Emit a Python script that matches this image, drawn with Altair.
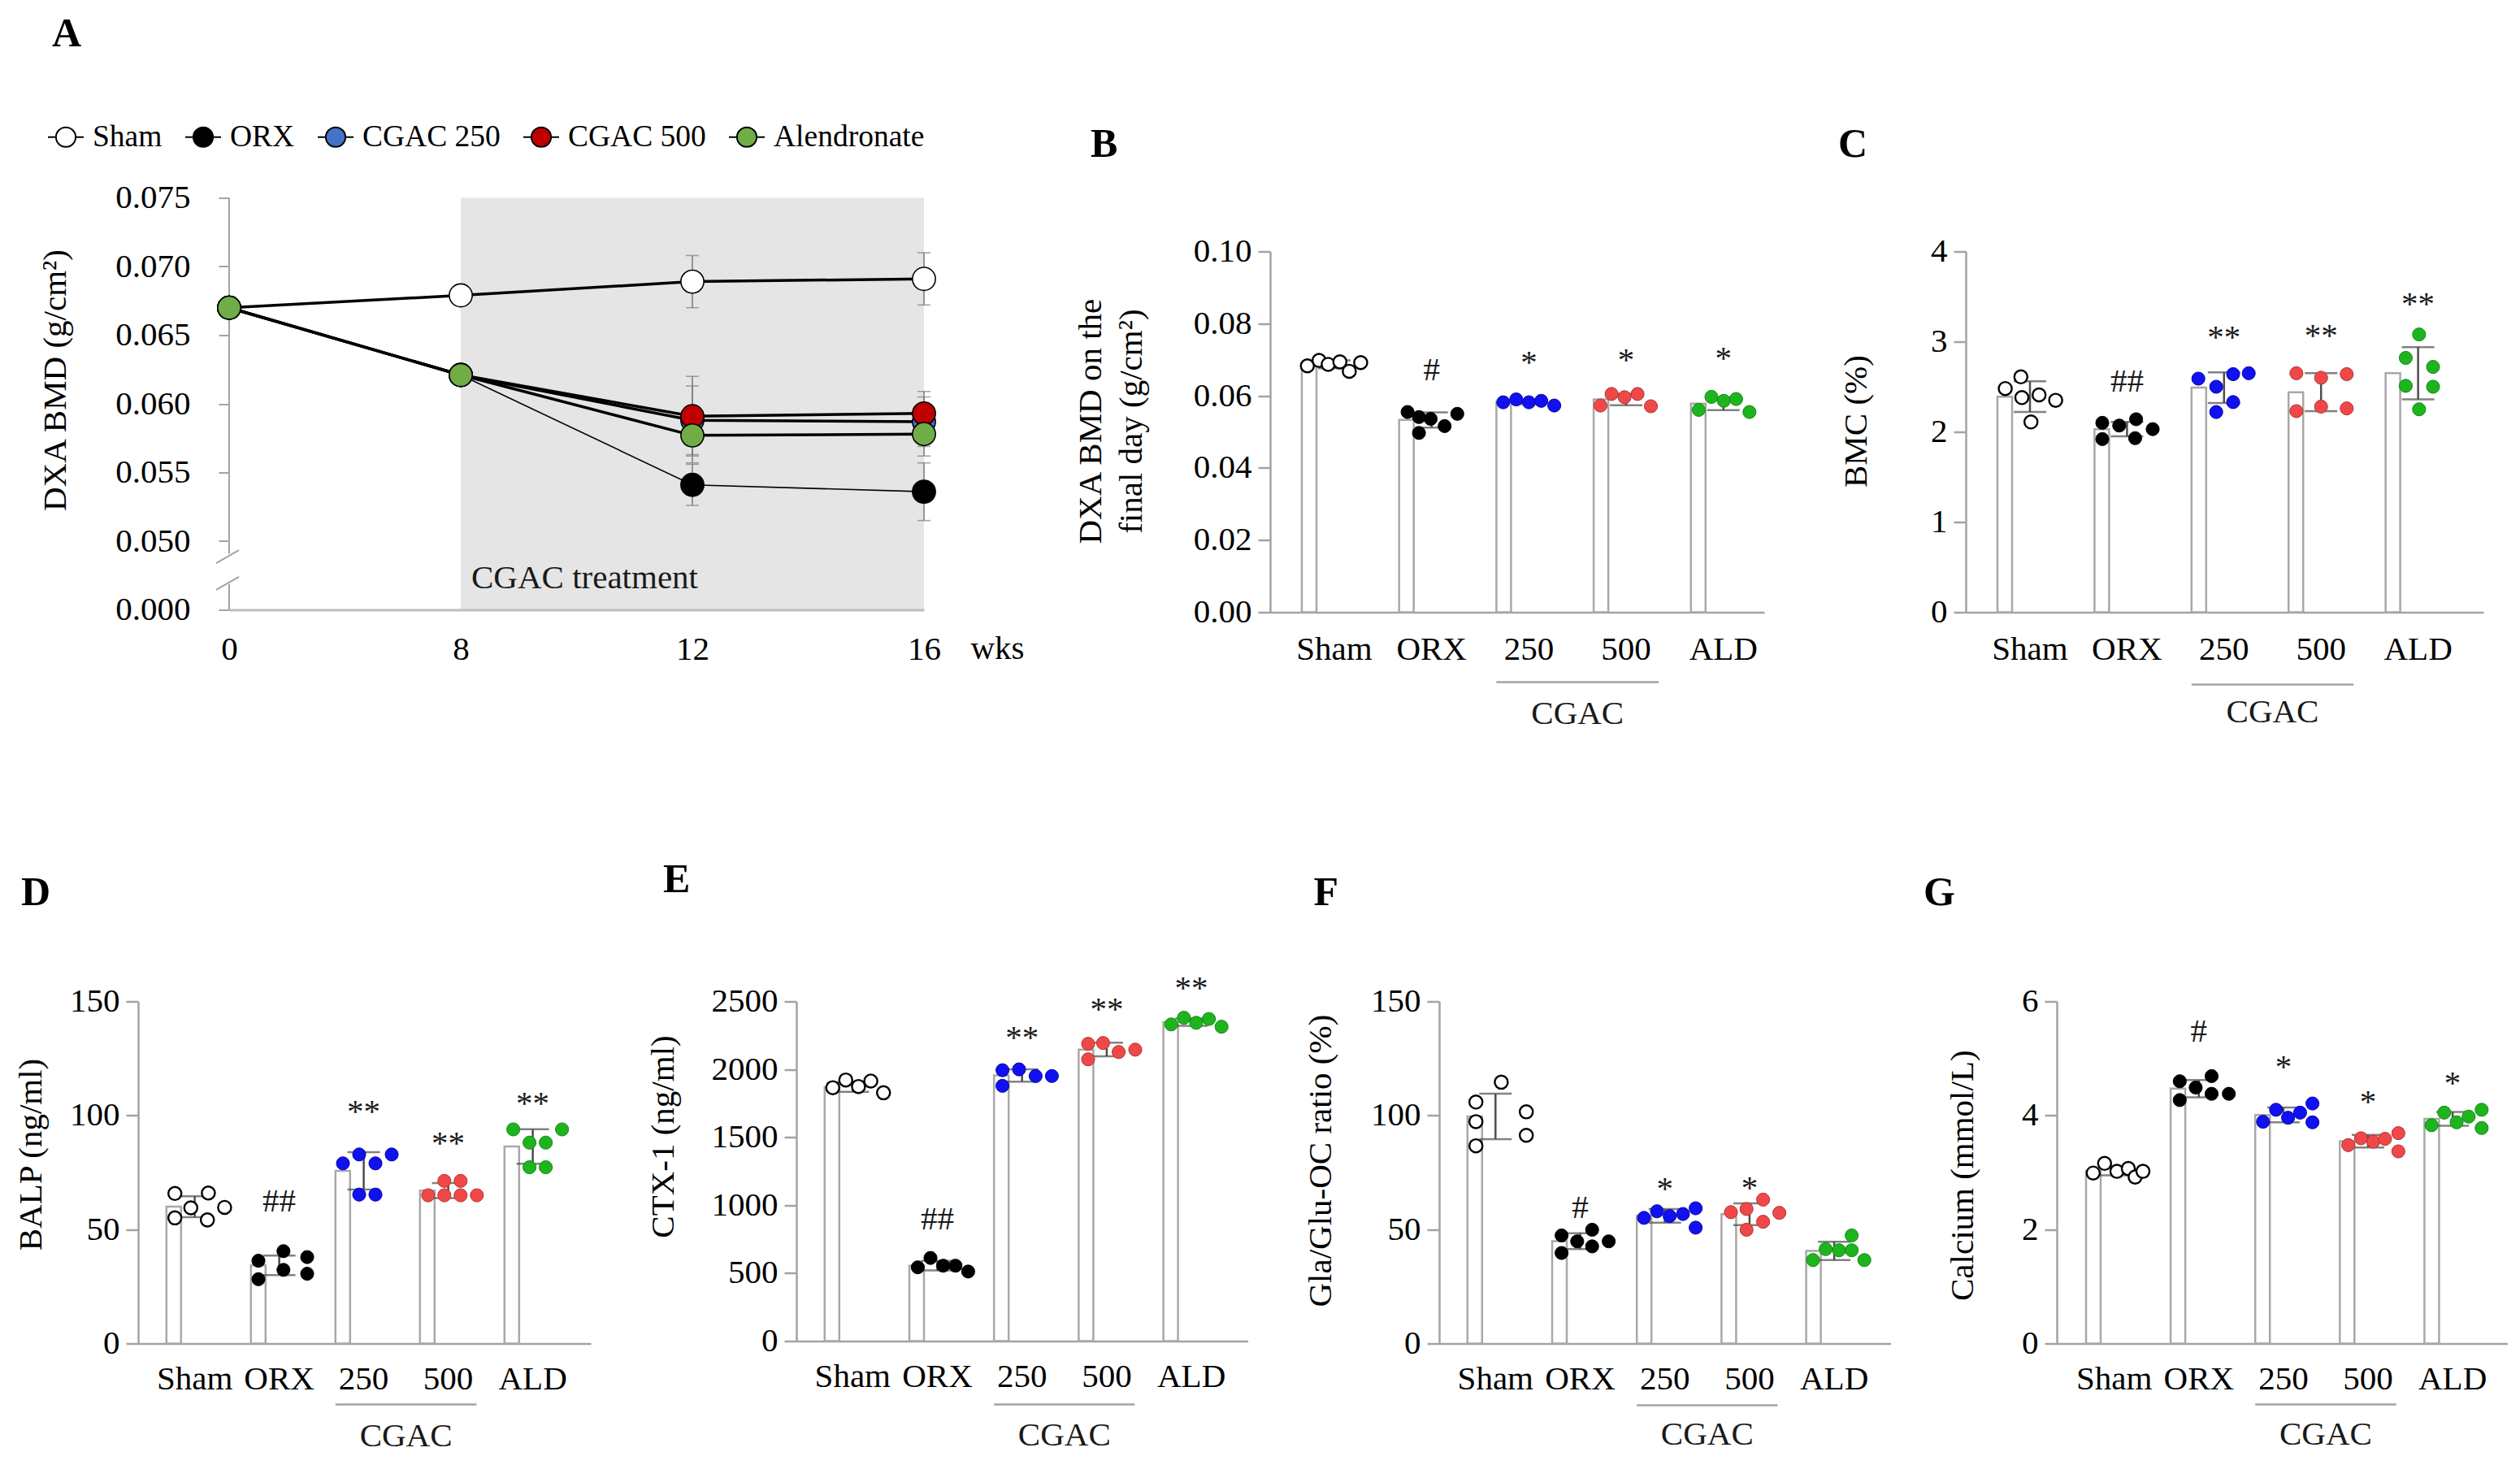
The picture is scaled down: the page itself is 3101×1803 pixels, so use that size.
import altair as alt
import pandas as pd

FONT = "Liberation Serif"
AXIS_GRAY = "#A3A3A3"
TXT = "#1A1A1A"
FS = 41

GROUPS = ["Sham", "ORX", "250", "500", "ALD"]
DOT_FILL = ["#FFFFFF", "#000000", "#1010F0", "#F04848", "#1EB41E"]
DOT_EDGE = ["#000000", "#000000", "#0808A8", "#B03434", "#148A14"]

# ---------------- A: DXA BMD over time ----------------
WEEKS = [0, 8, 12, 16]
SERIES = ["Sham", "ORX", "CGAC 250", "CGAC 500", "Alendronate"]
SERIES_FILL = ["#FFFFFF", "#000000", "#4472C4", "#C00000", "#70AD47"]
A_SHAM = [0.0670, 0.0679, 0.0689, 0.0691]
A_ORX = [0.0670, 0.0621, 0.0541, 0.0536]
A_C250 = [0.0670, 0.0621, 0.0588, 0.0587]
A_C500 = [0.0670, 0.0621, 0.0591, 0.0593]
A_ALN = [0.0670, 0.0621, 0.0577, 0.0578]
A_SHAM_SD = [0, 0, 0.0019, 0.0019]
A_ORX_SD = [0, 0, 0.0015, 0.0021]
A_C250_SD = [0, 0, 0.0025, 0.0018]
A_C500_SD = [0, 0, 0.0029, 0.0016]
A_ALN_SD = [0, 0, 0.0020, 0.0016]
A_TICKS = [0.045, 0.050, 0.055, 0.060, 0.065, 0.070, 0.075]

# ---------------- B: DXA BMD on the final day ----------------
B_SHAM = [0.0683, 0.0698, 0.0687, 0.0694, 0.0668, 0.0692]
B_ORX = [0.0555, 0.0541, 0.0536, 0.0516, 0.0550, 0.0497]
B_250 = [0.0582, 0.0590, 0.0582, 0.0586, 0.0573]
B_500 = [0.0573, 0.0605, 0.0596, 0.0605, 0.0571]
B_ALD = [0.0561, 0.0597, 0.0586, 0.0591, 0.0555]
B_MEAN = [0.0687, 0.0533, 0.0583, 0.0590, 0.0578]
B_SD = [0.0011, 0.0021, 0.0006, 0.0016, 0.0018]
B_SIG = ["", "#", "*", "*", "*"]
B_SIG_Y = [0, 0.0674, 0.0705, 0.0713, 0.0718]

# ---------------- C: BMC ----------------
C_SHAM = [2.48, 2.61, 2.38, 2.41, 2.35, 2.11]
C_ORX = [2.10, 2.07, 2.14, 2.03, 1.92, 1.93]
C_250 = [2.59, 2.64, 2.65, 2.50, 2.33, 2.22]
C_500 = [2.65, 2.60, 2.64, 2.23, 2.28, 2.26]
C_ALD = [3.08, 2.82, 2.72, 2.51, 2.50, 2.25]
C_MEAN = [2.39, 2.03, 2.49, 2.44, 2.65]
C_SD = [0.17, 0.08, 0.17, 0.21, 0.29]
C_SIG = ["", "##", "**", "**", "**"]
C_SIG_Y = [0, 2.57, 3.10, 3.12, 3.47]

# ---------------- D: BALP ----------------
D_SHAM = [65.8, 66.0, 59.5, 59.7, 55.1, 54.2]
D_ORX = [36.3, 40.5, 37.9, 28.2, 32.3, 30.6]
D_250 = [79.0, 82.9, 82.9, 79.0, 65.3, 65.3]
D_500 = [65.0, 65.0, 65.0, 65.0, 71.3, 71.3]
D_ALD = [93.9, 93.9, 88.1, 88.1, 77.3, 77.3]
D_MEAN = [60.0, 34.3, 75.7, 67.1, 86.4]
D_SD = [4.6, 4.3, 8.2, 3.3, 7.6]
D_SIG = ["", "##", "**", "**", "**"]
D_SIG_Y = [0, 62.8, 103.8, 90.1, 107.6]

# ---------------- E: CTX-1 ----------------
E_SHAM = [1865, 1922, 1874, 1914, 1828]
E_ORX = [543, 612, 555, 555, 512]
E_250 = [1994, 2000, 1951, 1951, 1879]
E_500 = [2188, 2194, 2128, 2145, 2074]
E_ALD = [2331, 2380, 2343, 2371, 2314]
E_MEAN = [1870, 555, 1955, 2146, 2348]
E_SD = [35, 35, 45, 50, 27]
E_SIG = ["", "##", "**", "**", "**"]
E_SIG_Y = [0, 907, 2271, 2480, 2637]

# ---------------- F: Gla/Glu-OC ratio ----------------
F_SHAM = [114.6, 105.9, 101.6, 97.3, 91.3, 86.7]
F_ORX = [47.4, 49.9, 44.8, 44.8, 39.7, 42.6]
F_250 = [55.1, 58.0, 55.9, 56.8, 59.3, 50.8]
F_500 = [57.6, 59.0, 63.1, 57.3, 49.9, 53.4]
F_ALD = [47.4, 36.6, 41.4, 40.9, 40.9, 36.6]
F_MEAN = [99.6, 44.9, 56.0, 56.7, 40.6]
F_SD = [10.0, 3.5, 3.0, 4.8, 4.0]
F_SIG = ["", "#", "*", "*", ""]
F_SIG_Y = [0, 60.2, 70.0, 70.5, 0]

# ---------------- G: Calcium ----------------
G_SHAM = [2.99, 3.16, 3.02, 3.07, 2.92, 3.02]
G_ORX = [4.60, 4.49, 4.69, 4.27, 4.38, 4.38]
G_250 = [3.89, 4.10, 3.96, 4.05, 4.21, 3.88]
G_500 = [3.48, 3.60, 3.54, 3.59, 3.69, 3.37]
G_ALD = [3.83, 4.05, 3.88, 3.98, 4.10, 3.78]
G_MEAN = [3.03, 4.47, 4.01, 3.55, 3.94]
G_SD = [0.08, 0.15, 0.13, 0.11, 0.12]
G_SIG = ["", "#", "*", "*", "*"]
G_SIG_Y = [0, 5.49, 4.94, 4.32, 4.66]

# horizontal placement of the scatter dots inside each bar (-1 = left edge, 1 = right edge)
SPREAD = {
    "B": [[-0.83, -0.47, -0.19, 0.17, 0.46, 0.81], [-0.74, -0.39, -0.03, 0.40, 0.79, -0.39],
          [-0.79, -0.39, 0.0, 0.38, 0.78], [-0.79, -0.45, -0.05, 0.35, 0.76], [-0.76, -0.37, 0.01, 0.39, 0.80]],
    "C": [[-0.76, -0.28, -0.25, 0.28, 0.79, 0.03], [-0.76, -0.24, 0.28, 0.79, -0.76, 0.25],
          [-0.79, 0.28, 0.76, -0.24, 0.28, -0.24], [-0.76, 0.0, 0.79, -0.76, 0.0, 0.79],
          [0.03, -0.38, 0.46, -0.38, 0.46, 0.03]],
    "D": [[-0.74, 0.29, -0.25, 0.79, -0.74, 0.26], [-0.77, 0.0, 0.73, -0.77, 0.0, 0.73],
          [-0.77, -0.27, 0.73, 0.23, -0.27, 0.23], [-0.75, -0.25, 0.25, 0.75, -0.25, 0.25],
          [-0.73, 0.77, -0.23, 0.27, -0.23, 0.27]],
    "E": [[-0.75, -0.35, 0.04, 0.42, 0.81], [-0.74, -0.35, 0.04, 0.42, 0.81], [-0.74, -0.23, 0.28, 0.78, -0.74],
          [-0.71, -0.25, 0.23, 0.74, -0.71], [-0.76, -0.37, 0.01, 0.40, 0.79]],
    "F": [[0.04, -0.74, 0.81, -0.74, 0.81, -0.74], [-0.71, 0.23, -0.23, 0.74, -0.71, 0.23],
          [-0.78, -0.38, 0.01, 0.42, 0.81, 0.81], [-0.71, -0.23, 0.28, 0.78, -0.23, 0.28],
          [0.40, -0.79, -0.40, 0.01, 0.40, 0.79]],
    "G": [[-0.78, -0.43, -0.05, 0.30, 0.51, 0.75], [-0.72, -0.23, 0.26, -0.72, 0.26, 0.79],
          [-0.76, -0.36, 0.01, 0.38, 0.76, 0.76], [-0.74, -0.35, 0.03, 0.39, 0.80, 0.80],
          [-0.78, -0.39, -0.01, 0.36, 0.76, 0.76]],
}


def spacer(w, h):
    return alt.Chart(pd.DataFrame({"s": [0]})).mark_point(opacity=0).encode(
        x=alt.X("s:Q", axis=None), y=alt.Y("s:Q", axis=None)
    ).properties(width=w, height=h)


def letter(text, dx, dy):
    return alt.TitleParams(text=text, anchor="start", frame="group", dx=dx, dy=dy, offset=0,
                           font=FONT, fontSize=50, fontWeight="bold", color="black",
                           align="left", baseline="bottom")


# ---------------- panel A ----------------
def panel_a():
    width, height = 855, 507
    rows = []
    for name, means, sds in zip(SERIES, [A_SHAM, A_ORX, A_C250, A_C500, A_ALN],
                                [A_SHAM_SD, A_ORX_SD, A_C250_SD, A_C500_SD, A_ALN_SD]):
        for wk, m, sd in zip(WEEKS, means, sds):
            rows.append({"series": name, "wk": wk, "bmd": m, "sd": sd, "lo": m - sd, "hi": m + sd})
    df = pd.DataFrame(rows)

    xs = alt.Scale(type="point", padding=0, domain=WEEKS)
    xaxis = alt.Axis(title="wks", labelAngle=0, ticks=False, domainColor="#BDBDBD", domainWidth=3,
                     labelPadding=29, titleX=width + 57, titleY=48, titleAngle=0, titleAlign="left",
                     titleBaseline="middle", titleFontSize=FS)
    ys = alt.Scale(domain=[0.045, 0.075], nice=False, zero=False)
    yaxis = alt.Axis(values=A_TICKS, labelExpr="datum.value < 0.047 ? '0.000' : format(datum.value, '.3f')",
                     domain=False, tickColor=AXIS_GRAY, tickWidth=2, tickSize=13, labelPadding=35,
                     title="DXA BMD (g/cm\u00b2)", titleX=-214, titleY=224, titleBaseline="middle",
                     titleAlign="center")

    def X(f):
        return alt.X(f, scale=xs, axis=xaxis)

    def Y(f):
        return alt.Y(f, scale=ys, axis=yaxis)

    shade = alt.Chart(pd.DataFrame({"a": [8], "b": [16], "y0": [0.045], "y1": [0.075]})).mark_rect(
        color="#E5E5E5").encode(x=X("a:O"), x2="b", y=Y("y0:Q"), y2="y1")

    spine = alt.Chart(pd.DataFrame({"y0": [0.045, 0.04908], "y1": [0.04688, 0.075]})).mark_rule(
        color=AXIS_GRAY, strokeWidth=2).encode(x=alt.value(0), y=Y("y0:Q"), y2="y1")
    breaks = alt.Chart(pd.DataFrame({"y0": [0.04646, 0.04840], "y1": [0.04741, 0.04934]})).mark_rule(
        color=AXIS_GRAY, strokeWidth=2).encode(x=alt.value(-16), x2=alt.value(12), y=Y("y0:Q"), y2="y1")

    base = alt.Chart(df)
    thick = base.transform_filter("datum.series != 'ORX'").mark_line(color="black", strokeWidth=3.5).encode(
        x=X("wk:O"), y=Y("bmd:Q"), detail="series:N")
    thin = base.transform_filter("datum.series == 'ORX'").mark_line(color="black", strokeWidth=1.6).encode(
        x=X("wk:O"), y=Y("bmd:Q"))

    err = base.transform_filter("datum.sd > 0")
    err_line = err.mark_rule(color="#7F7F7F", strokeWidth=1.6).encode(x=X("wk:O"), y=Y("lo:Q"), y2="hi")
    cap_lo = err.mark_tick(color="#7F7F7F", thickness=1.6, size=16, orient="horizontal").encode(
        x=X("wk:O"), y=Y("lo:Q"))
    cap_hi = err.mark_tick(color="#7F7F7F", thickness=1.6, size=16, orient="horizontal").encode(
        x=X("wk:O"), y=Y("hi:Q"))

    legend_symbol = "M-1,0L-0.55,0M0.55,0L1,0M0.55,0A0.55,0.55,0,1,1,-0.55,0A0.55,0.55,0,1,1,0.55,0Z"
    pts = base.mark_point(filled=True, size=800, stroke="black", strokeWidth=1.6, opacity=1).encode(
        x=X("wk:O"), y=Y("bmd:Q"),
        fill=alt.Fill("series:N", scale=alt.Scale(domain=SERIES, range=SERIES_FILL),
                      legend=alt.Legend(title=None, orient="none", legendX=-112, legendY=-98,
                                        direction="horizontal", columns=5, symbolType=legend_symbol,
                                        symbolSize=1936, symbolStrokeColor="black", symbolStrokeWidth=2,
                                        symbolOpacity=1, labelFont=FONT, labelFontSize=37.5, labelLimit=600,
                                        labelColor="black", labelOffset=10, columnPadding=24, padding=0)))

    label = alt.Chart(pd.DataFrame({"wk": [8], "y": [0.0473], "t": ["CGAC treatment"]})).mark_text(
        align="left", baseline="middle", dx=13, font=FONT, fontSize=FS, color=TXT).encode(
        x=X("wk:O"), y=Y("y:Q"), text="t:N")

    return alt.layer(shade, spine, breaks, thin, thick, err_line, cap_lo, cap_hi, pts, label).properties(
        width=width, height=height, title=letter("A", -218, -106))


# ---------------- bar + scatter panels ----------------
def bar_panel(key, title, dots, means, sds, sig, sig_y, ticks, fmt, width, height, step, band, lead,
              letter_dx, letter_dy, title_x, title_y, line_y, cgac_y, label_pad):
    pad_in = 1 - band / step
    pad_out = (width / step - 5 + pad_in) / 2
    align = lead / (width - step * (5 - pad_in))
    xs = alt.Scale(domain=GROUPS, paddingInner=pad_in, paddingOuter=pad_out, align=align)
    xaxis = alt.Axis(title=None, labelAngle=0, ticks=False, domainColor=AXIS_GRAY, domainWidth=2.5,
                     labelPadding=label_pad)
    ys = alt.Scale(domain=[ticks[0], ticks[-1]], nice=False, zero=True)
    yaxis = alt.Axis(values=ticks, format=fmt, domainColor=AXIS_GRAY, domainWidth=2.5, tickColor=AXIS_GRAY,
                     tickWidth=2.5, tickSize=15, labelPadding=8, title=title, titleX=title_x, titleY=title_y,
                     titleBaseline="middle", titleAlign="center", titleLineHeight=50)

    def X(f):
        return alt.X(f, scale=xs, axis=xaxis)

    def Y(f):
        return alt.Y(f, scale=ys, axis=yaxis)

    bars_df = pd.DataFrame({"g": GROUPS, "m": means, "lo": [m - s for m, s in zip(means, sds)],
                            "hi": [m + s for m, s in zip(means, sds)]})
    dot_rows = []
    for gi, (g, vals) in enumerate(zip(GROUPS, dots)):
        for v, o in zip(vals, SPREAD[key][gi]):
            dot_rows.append({"g": g, "v": v, "o": o, "fill": DOT_FILL[gi], "edge": DOT_EDGE[gi],
                             "sw": 2.4 if gi == 0 else 1.0})
    dots_df = pd.DataFrame(dot_rows)
    sig_df = pd.DataFrame({"g": GROUPS, "t": sig, "y": sig_y})
    sig_df = sig_df[sig_df["t"] != ""]

    bars = alt.Chart(bars_df).mark_bar(fill="white", stroke="#A8A8A8", strokeWidth=2.5).encode(
        x=X("g:N"), y=Y("m:Q"))
    err = alt.Chart(bars_df).mark_rule(color="#4D4D4D", strokeWidth=2.5).encode(
        x=X("g:N"), y=Y("lo:Q"), y2="hi")
    cap_lo = alt.Chart(bars_df).mark_tick(color="#4D4D4D", thickness=2.5, size=40, orient="horizontal").encode(
        x=X("g:N"), y=Y("lo:Q"))
    cap_hi = alt.Chart(bars_df).mark_tick(color="#4D4D4D", thickness=2.5, size=40, orient="horizontal").encode(
        x=X("g:N"), y=Y("hi:Q"))
    pts = alt.Chart(dots_df).mark_point(filled=True, size=260, opacity=1).encode(
        x=X("g:N"), xOffset=alt.XOffset("o:Q", scale=alt.Scale(domain=[-1, 1])), y=Y("v:Q"),
        fill=alt.Fill("fill:N", scale=None), stroke=alt.Stroke("edge:N", scale=None),
        strokeWidth=alt.StrokeWidth("sw:Q", scale=None))
    stars = alt.Chart(sig_df).transform_filter("indexof(datum.t, '*') >= 0").mark_text(
        baseline="alphabetic", dy=19, font=FONT, fontSize=FS, color=TXT).encode(
        x=X("g:N"), y=Y("y:Q"), text="t:N")
    hashes = alt.Chart(sig_df).transform_filter("indexof(datum.t, '#') >= 0").mark_text(
        baseline="alphabetic", dy=14, font=FONT, fontSize=FS, color=TXT).encode(
        x=X("g:N"), y=Y("y:Q"), text="t:N")
    underline = alt.Chart(pd.DataFrame({"s": ["250"], "e": ["500"]})).mark_rule(
        color=AXIS_GRAY, strokeWidth=2.5, xOffset=-band / 2, x2Offset=band / 2).encode(
        x=X("s:N"), x2="e:N", y=alt.value(height + line_y))
    cgac = alt.Chart(pd.DataFrame({"s": ["250"], "t": ["CGAC"]})).mark_text(
        dx=step / 2, baseline="middle", font=FONT, fontSize=FS, color=TXT).encode(
        x=X("s:N"), y=alt.value(height + cgac_y), text="t:N")

    return alt.layer(bars, err, cap_lo, cap_hi, pts, stars, hashes, underline, cgac).properties(
        width=width, height=height, title=letter(key, letter_dx, letter_dy))


pB = bar_panel("B", ["DXA BMD on the", "final day (g/cm\u00b2)"], [B_SHAM, B_ORX, B_250, B_500, B_ALD],
               B_MEAN, B_SD, B_SIG, B_SIG_Y, [0, 0.02, 0.04, 0.06, 0.08, 0.10], ".2f",
               608, 444, 119.7, 80, 39, -221, -35.5, -221, 208.6, 86, 125, 26)
pC = bar_panel("C", "BMC (%)", [C_SHAM, C_ORX, C_250, C_500, C_ALD],
               C_MEAN, C_SD, C_SIG, C_SIG_Y, [0, 1, 2, 3, 4], "d",
               637, 444, 119.4, 80, 39, -157, -35.5, -135, 208.6, 89, 123, 26)
pD = bar_panel("D", "BALP (ng/ml)", [D_SHAM, D_ORX, D_250, D_500, D_ALD],
               D_MEAN, D_SD, D_SIG, D_SIG_Y, [0, 50, 100, 150], "d",
               557, 421, 104, 69.6, 34.8, -144, -38, -132, 188, 75, 114, 23.5)
pE = bar_panel("E", "CTX-1 (ng/ml)", [E_SHAM, E_ORX, E_250, E_500, E_ALD],
               E_MEAN, E_SD, E_SIG, E_SIG_Y, [0, 500, 1000, 1500, 2000, 2500], "d",
               555.6, 418, 104.2, 69, 34.8, -164, -38, -164, 166, 78, 116, 23.5)
pF = bar_panel("F", "Gla/Glu-OC ratio (%)", [F_SHAM, F_ORX, F_250, F_500, F_ALD],
               F_MEAN, F_SD, F_SIG, F_SIG_Y, [0, 50, 100, 150], "d",
               555.5, 421, 104.2, 69, 34.8, -154.5, -38, -146, 195.6, 76, 112, 23.5)
pG = bar_panel("G", "Calcium (mmol/L)", [G_SHAM, G_ORX, G_250, G_500, G_ALD],
               G_MEAN, G_SD, G_SIG, G_SIG_Y, [0, 2, 4, 6], "d",
               554.3, 421, 104.1, 69.4, 36, -164, -38, -116, 213.7, 75, 112, 23.5)

pA = panel_a()

right_block = alt.vconcat(
    spacer(608 + 248 + 637, 66),
    alt.hconcat(pB, spacer(248, 1), pC, spacing=0, bounds="flush"),
    spacing=0, bounds="flush")
top_row = alt.hconcat(spacer(111.4, 1), pA, spacer(426, 1), right_block, spacing=0, bounds="flush")
bottom_row = alt.hconcat(pD, spacer(252.7, 1), pE, spacer(234.4, 1), pF, spacer(203.7, 1), pG,
                         spacing=0, bounds="flush")

chart = alt.vconcat(top_row, bottom_row, spacing=989, bounds="flush").properties(
    padding={"left": 16, "top": 16.5, "right": 5, "bottom": 5}, background="white"
).configure_view(stroke=None).configure_axis(
    labelFont=FONT, labelFontSize=FS, labelColor="black", titleFont=FONT, titleFontSize=FS,
    titleFontWeight="normal", titleColor="black", grid=False
).configure_text(font=FONT)

chart.save("out.html", embed_options={"renderer": "svg", "actions": False})
